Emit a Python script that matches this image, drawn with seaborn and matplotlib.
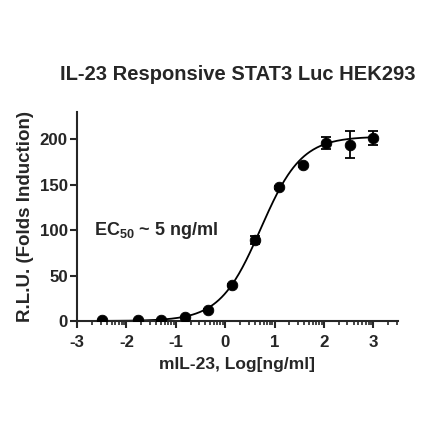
import numpy as np
import pandas as pd
import seaborn as sns
import matplotlib.pyplot as plt
from matplotlib.ticker import FixedLocator

# measured points (log10 ng/ml), mean R.L.U. and SD
log_conc = [-2.5, -1.77, -1.29, -0.82, -0.34, 0.14, 0.61, 1.09, 1.57, 2.05, 2.52, 3.0]
rlu = [1.0, 1.0, 1.0, 4.0, 12.0, 39.5, 89.0, 147.0, 172.0, 196.0, 194.0, 201.5]
sd = [0.5, 0.5, 0.5, 0.5, 1.0, 1.5, 4.0, 2.0, 2.0, 7.0, 15.0, 8.0]

# 4PL fit parameters (bottom, top, logEC50, hill)
fit_bottom = 0.0
fit_top = 203.0
fit_logec50 = 0.72
fit_hill = 1.05

sns.set_theme(style="ticks")
plt.rcParams["font.family"] = ["Liberation Sans", "DejaVu Sans"]
plt.rcParams["font.weight"] = "bold"
plt.rcParams["axes.unicode_minus"] = False
plt.rcParams["mathtext.fontset"] = "custom"
plt.rcParams["mathtext.rm"] = "Liberation Sans:bold"
plt.rcParams["mathtext.it"] = "Liberation Sans:bold"
plt.rcParams["mathtext.bf"] = "Liberation Sans:bold"

df = pd.DataFrame({"x": log_conc, "y": rlu, "sd": sd})
xs = np.linspace(-2.5, 3.0, 300)
curve = pd.DataFrame({
    "x": xs,
    "y": fit_bottom + (fit_top - fit_bottom) / (1 + 10 ** ((fit_logec50 - xs) * fit_hill)),
})

fig = plt.figure(figsize=(4.4, 4.4), dpi=100)
ax = fig.add_axes([0.175, 0.2705, 0.7295, 0.475])

sns.lineplot(data=curve, x="x", y="y", ax=ax, color="black", linewidth=1.3)
ax.errorbar(df["x"], df["y"], yerr=df["sd"], fmt="none", ecolor="black",
            elinewidth=1.3, capsize=3.3, capthick=1.3, zorder=3)
sns.scatterplot(data=df, x="x", y="y", ax=ax, color="black", s=58,
                edgecolor="black", zorder=4)

ax.set_xlim(-3, 3.5)
ax.set_ylim(0, 230)
ax.set_xticks([-3, -2, -1, 0, 1, 2, 3])
ax.set_yticks([0, 50, 100, 150, 200])
minor = [d + np.log10(k) for d in range(-3, 4) for k in range(2, 10)]
minor = [m for m in minor if m <= 3.5]
ax.xaxis.set_minor_locator(FixedLocator(minor))
ax.tick_params(axis="both", which="major", length=5, width=1.5, labelsize=12.2)
ax.tick_params(axis="x", which="major", pad=5)
ax.tick_params(axis="y", which="major", pad=1.5)
ax.tick_params(axis="x", which="minor", length=3, width=1.2)
for side in ["left", "bottom"]:
    ax.spines[side].set_linewidth(1.5)
sns.despine(ax=ax)

ax.set_xlabel("mIL-23, Log[ng/ml]", fontsize=12.5, fontweight="bold", labelpad=5)
ax.set_ylabel("R.L.U. (Folds Induction)", fontsize=13.5, fontweight="bold", labelpad=4)
ax.set_title("IL-23 Responsive STAT3 Luc HEK293", fontsize=14.5, fontweight="bold", pad=23)
ax.text(-2.65, 100, r"EC$_{50}$ ~ 5 ng/ml", fontsize=13, fontweight="bold", va="center")

fig.savefig("out.png", dpi=100)
